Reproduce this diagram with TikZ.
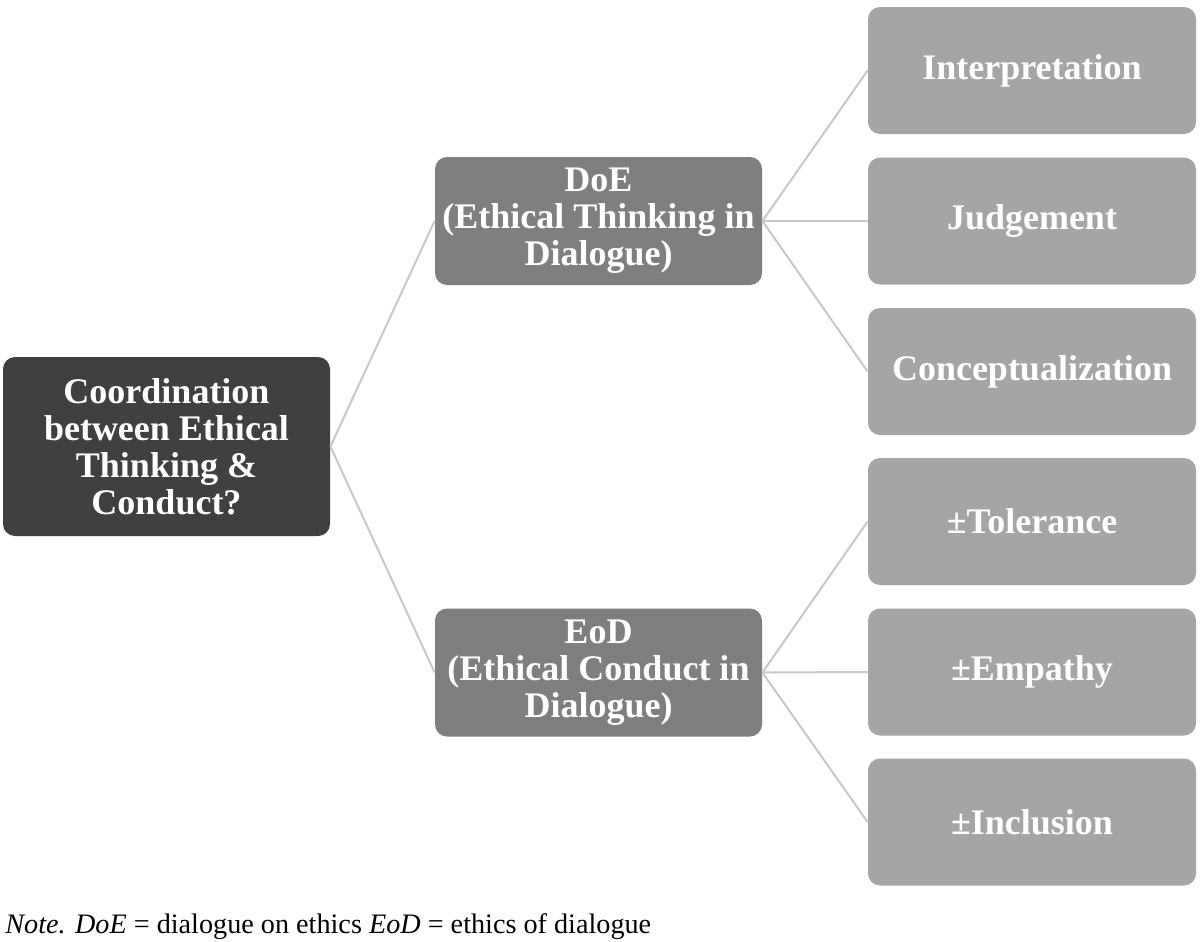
\documentclass[tikz,border=0pt]{standalone}
\usepackage{fontspec}
\setmainfont{Liberation Serif}
\definecolor{rootgray}{HTML}{404040}
\definecolor{midgray}{HTML}{7F7F7F}
\definecolor{leafgray}{HTML}{A5A5A5}
\definecolor{linkgray}{HTML}{C8C8C8}
\begin{document}
\begin{tikzpicture}[x=0.5pt,y=-0.5pt,
  box/.style={rectangle, rounded corners=6pt, text=white,
    font=\bfseries\fontsize{18}{18.5}\selectfont, align=center, inner sep=1pt},
  rootbox/.style={box, fill=rootgray, minimum width=163.5pt, minimum height=89.5pt},
  midbox/.style={box, fill=midgray, minimum width=163.5pt, minimum height=64pt},
  leafbox/.style={box, fill=leafgray, minimum width=164pt, minimum height=63.5pt},
  link/.style={draw=linkgray, line width=1pt}]
\useasboundingbox (0,0) rectangle (1200,942);
\fill[white] (0,0) rectangle (1200,942);

\node[rootbox] (root) at (166.5,446.5) {Coordination\\between Ethical\\Thinking \&\\Conduct?};
\node[midbox] (doe) at (598.5,221) {DoE\\(Ethical Thinking in\\Dialogue)};
\node[midbox] (eod) at (598.5,672.5) {EoD\\(Ethical Conduct in\\Dialogue)};

\node[leafbox] (l1) at (1032,70.5) {Interpretation};
\node[leafbox] (l2) at (1032,221) {Judgement};
\node[leafbox] (l3) at (1032,371.5) {Conceptualization};
\node[leafbox] (l4) at (1032,521.5) {±Tolerance};
\node[leafbox] (l5) at (1032,672) {±Empathy};
\node[leafbox] (l6) at (1032,822) {±Inclusion};

\draw[link] (root.east) -- (doe.west);
\draw[link] (root.east) -- (eod.west);
\draw[link] (doe.east) -- (l1.west);
\draw[link] (doe.east) -- (l2.west);
\draw[link] (doe.east) -- (l3.west);
\draw[link] (eod.east) -- (l4.west);
\draw[link] (eod.east) -- (l5.west);
\draw[link] (eod.east) -- (l6.west);

\node[anchor=base west, inner sep=0pt, font=\fontsize{14.1}{16}\selectfont] (note) at (5,933)
  {\textit{Note.} \textit{DoE} = dialogue on ethics \textit{EoD} = ethics of dialogue};
\end{tikzpicture}
\end{document}
